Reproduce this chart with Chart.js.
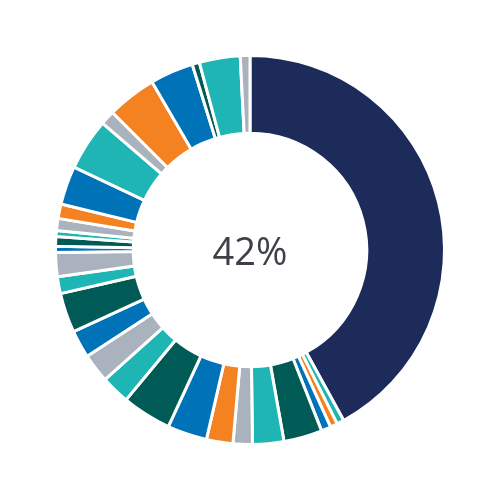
<!DOCTYPE html>
<html><head><script src="https://cdn.jsdelivr.net/npm/chart.js@4"></script>
<style>body{margin:0;background:#fff}#w{position:relative;width:500px;height:500px}#t{position:absolute;left:0;top:0;width:500px;height:500px;display:flex;align-items:center;justify-content:center;font:38px "Open Sans",sans-serif;color:#3d4047;pointer-events:none}</style>
</head><body><div id="w"><canvas id="c" width="500" height="500"></canvas><div id="t">42%</div></div>
<script>
const categories=["A","B1","B2","B3","B4","B5","B6","B7","B8","B9","B10","B11","B12","B13","B14","B15","B16","B17","B18","B19","B20","B21","B22","B23","B24","B25","B26","B27","B28"];
const values=[42,0.6,0.6,0.8,3.2,2.6,1.6,2.2,3.3,4.1,2.4,2.4,2.3,3.3,1.4,2,0.5,0.8,0.5,1,1.2,3.2,4.3,1.2,4.1,3.6,0.6,3.4,0.8];
const colorKeys=["N","T","O","B","G","T","S","O","B","G","T","S","B","G","T","S","B","G","T","S","O","B","T","S","O","B","G","T","S"];
const pal={N:"#1c2b5a",T:"#1fb5b5",O:"#f58220",B:"#0072b8",G:"#005a55",S:"#aab2bd"};
new Chart(document.getElementById('c'),{type:'doughnut',
data:{labels:categories,datasets:[{data:values,backgroundColor:colorKeys.map(k=>pal[k]),borderColor:'#fff',borderWidth:3}]},
options:{responsive:false,animation:false,cutout:'60%',layout:{padding:{top:54,bottom:54,left:54,right:54}},
plugins:{legend:{display:false},tooltip:{enabled:false}}}});
</script></body></html>
